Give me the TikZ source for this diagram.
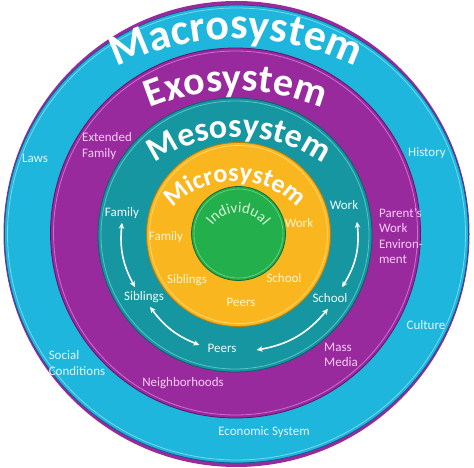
\documentclass[tikz,border=0pt]{standalone}
\usepackage{fontspec}
\setmainfont{Carlito}
\usetikzlibrary{arrows.meta,decorations.text}

% Define colors
\definecolor{macrocyan}{RGB}{30,182,220}
\definecolor{macroedge}{RGB}{25,85,140}
\definecolor{macrohi}{RGB}{120,215,238}
\definecolor{exopurple}{RGB}{152,42,158}
\definecolor{exoedge}{RGB}{95,20,105}
\definecolor{exohi}{RGB}{205,110,210}
\definecolor{mesoteal}{RGB}{22,150,160}
\definecolor{mesoedge}{RGB}{10,95,105}
\definecolor{mesohi}{RGB}{90,195,200}
\definecolor{microyellow}{RGB}{250,182,30}
\definecolor{microedge}{RGB}{185,125,10}
\definecolor{microhi}{RGB}{255,215,110}
\definecolor{indivgreen}{RGB}{35,175,75}
\definecolor{indivedge}{RGB}{20,105,45}
\definecolor{indivhi}{RGB}{110,215,130}
\definecolor{macrotext}{RGB}{225,245,252}
\definecolor{exotext}{RGB}{250,205,245}
\definecolor{mesotext}{RGB}{238,252,252}
\definecolor{microtext}{RGB}{255,246,205}
\definecolor{indivtext}{RGB}{215,245,215}

\tikzset{
  smalllbl/.style={font=\fontsize{13}{15.5}\selectfont, inner sep=1pt, align=left},
  macrolbl/.style={smalllbl, text=macrotext},
  exolbl/.style={smalllbl, text=exotext},
  mesolbl/.style={smalllbl, text=mesotext},
  microlbl/.style={smalllbl, text=microtext},
  twoway/.style={white, line width=1.6pt,
    {Stealth[length=6pt,width=5.5pt]}-{Stealth[length=6pt,width=5.5pt]}}
}

\begin{document}
\begin{tikzpicture}[x=1pt,y=1pt]
    \useasboundingbox (0,0) rectangle (474,468);

    % Rings, outside in
    \fill[exopurple] (236.5,234) circle[radius=233];
    \filldraw[fill=macrocyan, draw=macroedge, line width=0.8] (236.5,234) ellipse[x radius=232, y radius=229];
    \draw[macrohi, line width=0.8] (236.5,234) ellipse[x radius=229, y radius=226];
    \filldraw[fill=exopurple, draw=exoedge, line width=0.8] (235.5,235) circle[radius=185];
    \draw[exohi, line width=0.8] (235.5,235) circle[radius=182];
    \filldraw[fill=mesoteal, draw=mesoedge, line width=0.8] (235,233) circle[radius=137];
    \draw[mesohi, line width=0.8] (235,233) circle[radius=134];
    \filldraw[fill=microyellow, draw=microedge, line width=0.8] (238.5,233.5) circle[radius=92];
    \draw[microhi, line width=0.8] (238.5,233.5) circle[radius=89];
    \filldraw[fill=indivgreen, draw=indivedge, line width=0.8] (238.5,234.5) circle[radius=47];
    \draw[indivhi, line width=0.6] (238.5,234.5) circle[radius=44.5];

    % Curved titles
    \path[decorate, decoration={text along path, text align=center, text color=white,
        text={|\fontsize{44}{44}\selectfont\bfseries|Macrosystem}}]
        ([shift={(145:270)}]236,159) arc[start angle=145, end angle=35, radius=270];
    \path[decorate, decoration={text along path, text align=center, text color=white,
        text={|\fontsize{40}{40}\selectfont\bfseries|Exosystem}}]
        ([shift={(140:225)}]236,152) arc[start angle=140, end angle=40, radius=225];
    \path[decorate, decoration={text along path, text align=center, text color=white,
        text={|\fontsize{34}{34}\selectfont\bfseries|Mesosystem}}]
        ([shift={(150:145)}]239,186) arc[start angle=150, end angle=30, radius=145];
    \path[decorate, decoration={text along path, text align=center, text color=white,
        text={|\fontsize{26}{26}\selectfont\bfseries|Microsystem}}]
        ([shift={(165:85)}]235,202) arc[start angle=165, end angle=15, radius=85];
    \path[decorate, decoration={text along path, text align=center, text color=indivtext,
        text={|\fontsize{15}{15}\selectfont|Individual}}]
        ([shift={(170:32)}]238,223) arc[start angle=170, end angle=10, radius=32];

    % Macrosystem labels
    \node[macrolbl] (laws) at (35,310) {Laws};
    \node[macrolbl] (history) at (427,315) {History};
    \node[macrolbl] (culture) at (426,143) {Culture};
    \node[macrolbl] (social) at (77,105) {Social\\Conditions};
    \node[macrolbl] (economic) at (264,36) {Economic System};

    % Exosystem labels
    \node[exolbl] (extfam) at (107,322) {Extended\\Family};
    \node[exolbl] (parwork) at (401,232) {Parent’s\\Work\\Environ-\\ment};
    \node[exolbl] (media) at (341,113) {Mass\\Media};
    \node[exolbl] (neigh) at (183,85) {Neighborhoods};

    % Mesosystem labels
    \node[mesolbl] (mesofam) at (122,255) {Family};
    \node[mesolbl] (mesosib) at (144,171) {Siblings};
    \node[mesolbl] (mesopeer) at (222,120) {Peers};
    \node[mesolbl] (mesosch) at (330,170) {School};
    \node[mesolbl] (mesowork) at (344,263) {Work};

    % Microsystem labels
    \node[microlbl] (microfam) at (166,231) {Family};
    \node[microlbl] (microwork) at (299,245) {Work};
    \node[microlbl] (microsib) at (187,188) {Siblings};
    \node[microlbl] (microsch) at (284,190) {School};
    \node[microlbl] (micropeer) at (241,166) {Peers};

    % Links between settings
    \draw[twoway] ([yshift=-3pt]mesofam.south) to[bend right=17] ([xshift=-9pt,yshift=3pt]mesosib.north);
    \draw[twoway] ([xshift=6pt,yshift=-3pt]mesosib.south) to[bend right=16] ([xshift=-7pt,yshift=3pt]mesopeer.west);
    \draw[twoway] ([xshift=19pt,yshift=-2pt]mesopeer.east) to[bend right=20] ([xshift=-2pt,yshift=-5pt]mesosch.south);
    \draw[twoway] ([xshift=12pt,yshift=5pt]mesosch.north) to[bend right=19] ([xshift=13pt,yshift=-11pt]mesowork.south);
\end{tikzpicture}
\end{document}
